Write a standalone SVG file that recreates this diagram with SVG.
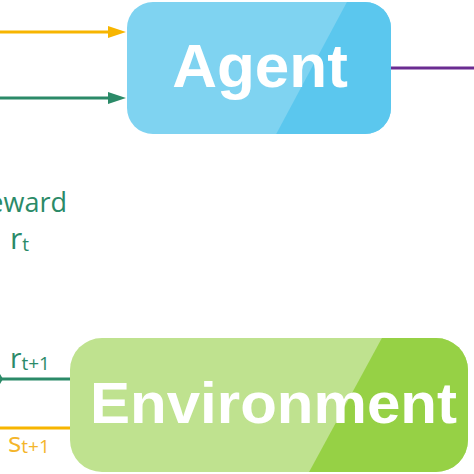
<svg xmlns="http://www.w3.org/2000/svg" width="474" height="474" viewBox="0 0 474 474">
<style>
.big{font-family:"Liberation Sans",Arial,sans-serif;font-weight:bold;fill:#ffffff}
.lbl{font-family:"Open Sans","DejaVu Sans",sans-serif}
.g{fill:#2b8a68}
.y{fill:#f4b52a}
</style>
<defs>
<clipPath id="ca"><rect x="127" y="2" width="264" height="132" rx="26"/></clipPath>
<clipPath id="ce"><rect x="70" y="338" width="398" height="134" rx="32"/></clipPath>
</defs>
<g id="connectors">
<line x1="0" y1="32" x2="110" y2="32" stroke="#f7b500" stroke-width="3"/>
<polygon points="108,26 126,32 108,38" fill="#f7b500"/>
<line x1="0" y1="98" x2="110" y2="98" stroke="#2b8a68" stroke-width="3"/>
<polygon points="108,92 126,98 108,104" fill="#2b8a68"/>
<line x1="390" y1="68" x2="474" y2="68" stroke="#6a2c91" stroke-width="3"/>
<line x1="0" y1="379" x2="72" y2="379" stroke="#2b8a68" stroke-width="3"/>
<polygon points="0,374 3,379 0,384" fill="#2b8a68"/>
<line x1="0" y1="428" x2="72" y2="428" stroke="#f7b500" stroke-width="3"/>
</g>
<g id="agent">
<g clip-path="url(#ca)">
<rect x="127" y="2" width="264" height="132" fill="#7fd3f1"/>
<polygon points="348,0 400,0 400,140 273,140" fill="#5bc7ee"/>
</g>
<text class="big" x="260" y="87" font-size="62" text-anchor="middle">Agent</text>
</g>
<g id="environment">
<g clip-path="url(#ce)">
<rect x="70" y="338" width="398" height="134" fill="#bfe28f"/>
<polygon points="383,336 470,336 470,474 308,474" fill="#96d145"/>
</g>
<text class="big" x="90" y="423" font-size="58" textLength="367" lengthAdjust="spacingAndGlyphs">Environment</text>
</g>
<g id="labels">
<text class="lbl g" x="67" y="212" font-size="27" text-anchor="end">Reward</text>
<text class="lbl g" x="10" y="249" font-size="30">r<tspan font-size="19" dy="2">t</tspan></text>
<text class="lbl g" x="10" y="368" font-size="28">r<tspan font-size="19" dy="2">t+1</tspan></text>
<text class="lbl y" x="8" y="452" font-size="28">s<tspan font-size="19" dy="1">t+1</tspan></text>
</g>
</svg>
